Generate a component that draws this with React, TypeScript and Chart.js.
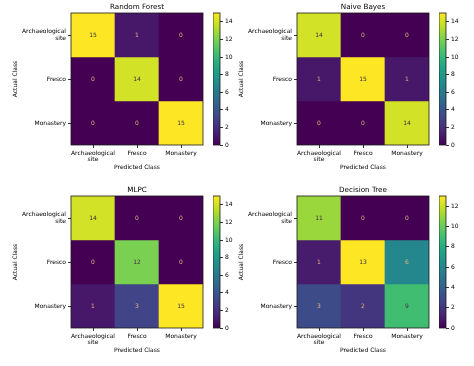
import React, { useEffect, useRef } from 'react';
import { Chart, registerables } from 'chart.js';

Chart.register(...registerables);

// ---- data ----
const classLabels: (string | string[])[] = [['Archaeological', 'site'], 'Fresco', 'Monastery'];
const modelTitles = ['Random Forest', 'Naive Bayes', 'MLPC', 'Decision Tree'];
const randomForest = [
  [15, 1, 0],
  [0, 14, 0],
  [0, 0, 15],
];
const naiveBayes = [
  [14, 0, 0],
  [1, 15, 1],
  [0, 0, 14],
];
const mlpc = [
  [14, 0, 0],
  [0, 12, 0],
  [1, 3, 15],
];
const decisionTree = [
  [11, 0, 0],
  [1, 13, 6],
  [3, 2, 9],
];
const colorbarTicks15 = [0, 2, 4, 6, 8, 10, 12, 14];
const colorbarTicks13 = [0, 2, 4, 6, 8, 10, 12];
const xAxisTitle = 'Predicted Class';
const yAxisTitle = 'Actual Class';

// ---- styles ----
const FONT = "'DejaVu Sans', sans-serif";
const VIRIDIS = [
  [68, 1, 84],
  [72, 36, 117],
  [65, 68, 135],
  [53, 95, 141],
  [42, 120, 142],
  [33, 145, 140],
  [34, 168, 132],
  [68, 191, 112],
  [122, 209, 81],
  [189, 223, 38],
  [253, 231, 37],
];
function viridis(t: number): string {
  const c = Math.max(0, Math.min(1, t)) * 10;
  const i = Math.min(9, Math.floor(c));
  const f = c - i;
  const a = VIRIDIS[i];
  const b = VIRIDIS[i + 1];
  const m = (k: number) => Math.round(a[k] + (b[k] - a[k]) * f);
  return `rgb(${m(0)},${m(1)},${m(2)})`;
}
const LIGHT_TEXT = '#e8b07c';
const DARK_TEXT = '#3e2f45';

const framePlugin = {
  id: 'frame',
  afterDraw(chart: any) {
    const { ctx, chartArea } = chart;
    ctx.save();
    ctx.strokeStyle = '#1a1a1a';
    ctx.lineWidth = 0.8;
    ctx.strokeRect(chartArea.left, chartArea.top, chartArea.right - chartArea.left, chartArea.bottom - chartArea.top);
    ctx.restore();
  },
};

type PanelProps = { title: string; matrix: number[][]; cbTicks: number[]; left: number; top: number };

function Panel({ title, matrix, cbTicks, left, top }: PanelProps) {
  const heatRef = useRef<HTMLCanvasElement>(null);
  const cbRef = useRef<HTMLCanvasElement>(null);

  useEffect(() => {
    const max = Math.max(...matrix.flat());
    const tickFont = { family: FONT, size: 6, lineHeight: 1.15 };

    const cellText = {
      id: 'cellText',
      afterDatasetsDraw(chart: any) {
        const ctx = chart.ctx;
        ctx.save();
        ctx.font = `6px ${FONT}`;
        ctx.textAlign = 'center';
        ctx.textBaseline = 'middle';
        chart.data.datasets.forEach((ds: any, di: number) => {
          const meta = chart.getDatasetMeta(di);
          meta.data.forEach((el: any, i: number) => {
            const v = ds.values[i];
            const p = el.getCenterPoint();
            ctx.fillStyle = v < max / 2 ? LIGHT_TEXT : DARK_TEXT;
            ctx.fillText(String(v), p.x, p.y);
          });
        });
        ctx.restore();
      },
    };

    const heat = new Chart(heatRef.current!, {
      type: 'bar',
      data: {
        labels: classLabels as any,
        datasets: matrix.map((row, r) => ({
          data: row.map(() => [r, r + 1]),
          values: row,
          backgroundColor: row.map((v) => viridis(v / max)),
          borderWidth: 0,
          barPercentage: 1,
          categoryPercentage: 1,
          grouped: false,
        })) as any,
      },
      options: {
        responsive: false,
        animation: false,
        layout: { padding: { left: 0, right: 9, top: 0, bottom: 0 } },
        plugins: {
          legend: { display: false },
          tooltip: { enabled: false },
          title: {
            display: true,
            text: title,
            fullSize: false,
            color: '#000',
            font: { family: FONT, size: 7.2, weight: 'normal' as any, lineHeight: 1.2 },
            padding: { top: 3.2, bottom: 1.16 },
          },
        },
        scales: {
          x: {
            type: 'category',
            offset: true,
            afterFit: (s: any) => {
              s.height = 38;
            },
            ticks: { font: tickFont, color: '#000', padding: 1.5, maxRotation: 0, autoSkip: false },
            grid: { offset: false, drawOnChartArea: false, drawTicks: true, tickLength: 3, color: '#000', lineWidth: 0.8 },
            border: { display: false },
            title: { display: true, text: xAxisTitle, color: '#000', font: { family: FONT, size: 6 }, padding: { top: 0, bottom: 12 } },
          },
          y: {
            type: 'linear',
            min: 0,
            max: classLabels.length,
            reverse: true,
            afterBuildTicks: (s: any) => {
              s.ticks = classLabels.map((_, i) => ({ value: i + 0.5 }));
            },
            afterFit: (s: any) => {
              s.width = 71;
            },
            ticks: {
              font: tickFont,
              color: '#000',
              padding: 2,
              autoSkip: false,
              callback: (v: any) => classLabels[Math.floor(Number(v))] as any,
            },
            grid: { drawOnChartArea: false, drawTicks: true, tickLength: 3, color: '#000', lineWidth: 0.8 },
            border: { display: false },
            title: { display: true, text: yAxisTitle, color: '#000', font: { family: FONT, size: 6 }, padding: { top: 11.4, bottom: 0 } },
          },
        },
      },
      plugins: [framePlugin, cellText],
    });

    const cb = new Chart(cbRef.current!, {
      type: 'bar',
      data: {
        labels: [''],
        datasets: [
          {
            data: [max],
            borderWidth: 0,
            barPercentage: 1,
            categoryPercentage: 1,
            backgroundColor: (c: any) => {
              const area = c.chart.chartArea;
              if (!area) return viridis(0);
              const g = c.chart.ctx.createLinearGradient(0, area.bottom, 0, area.top);
              VIRIDIS.forEach((_, i) => g.addColorStop(i / 10, viridis(i / 10)));
              return g;
            },
          },
        ],
      },
      options: {
        responsive: false,
        animation: false,
        layout: { padding: { left: 0, right: 0, top: 13, bottom: 38 } },
        plugins: { legend: { display: false }, tooltip: { enabled: false } },
        scales: {
          x: { display: false },
          y: {
            position: 'right',
            min: 0,
            max: max,
            afterBuildTicks: (s: any) => {
              s.ticks = cbTicks.map((v) => ({ value: v }));
            },
            afterFit: (s: any) => {
              s.width = 17;
            },
            ticks: { font: { family: FONT, size: 6 }, color: '#000', padding: 2 },
            grid: { drawOnChartArea: false, drawTicks: true, tickLength: 3, color: '#000', lineWidth: 0.8 },
            border: { display: false },
          },
        },
      },
      plugins: [framePlugin],
    });

    return () => {
      heat.destroy();
      cb.destroy();
    };
  }, [title, matrix, cbTicks]);

  return (
    <>
      <canvas
        ref={heatRef}
        width={212}
        height={183}
        style={{ position: 'absolute', left, top, width: 212, height: 183 }}
      />
      <canvas
        ref={cbRef}
        width={24}
        height={183}
        style={{ position: 'absolute', left: left + 213, top, width: 24, height: 183 }}
      />
    </>
  );
}

export default function App() {
  useEffect(() => {
    document.body.style.margin = '0';
    document.body.style.background = '#fff';
  }, []);
  return (
    <div style={{ position: 'relative', width: 474, height: 366, background: '#fff', overflow: 'hidden' }}>
      <Panel title={modelTitles[0]} matrix={randomForest} cbTicks={colorbarTicks15} left={0} top={0} />
      <Panel title={modelTitles[1]} matrix={naiveBayes} cbTicks={colorbarTicks15} left={226} top={0} />
      <Panel title={modelTitles[2]} matrix={mlpc} cbTicks={colorbarTicks15} left={0} top={183} />
      <Panel title={modelTitles[3]} matrix={decisionTree} cbTicks={colorbarTicks13} left={226} top={183} />
    </div>
  );
}
